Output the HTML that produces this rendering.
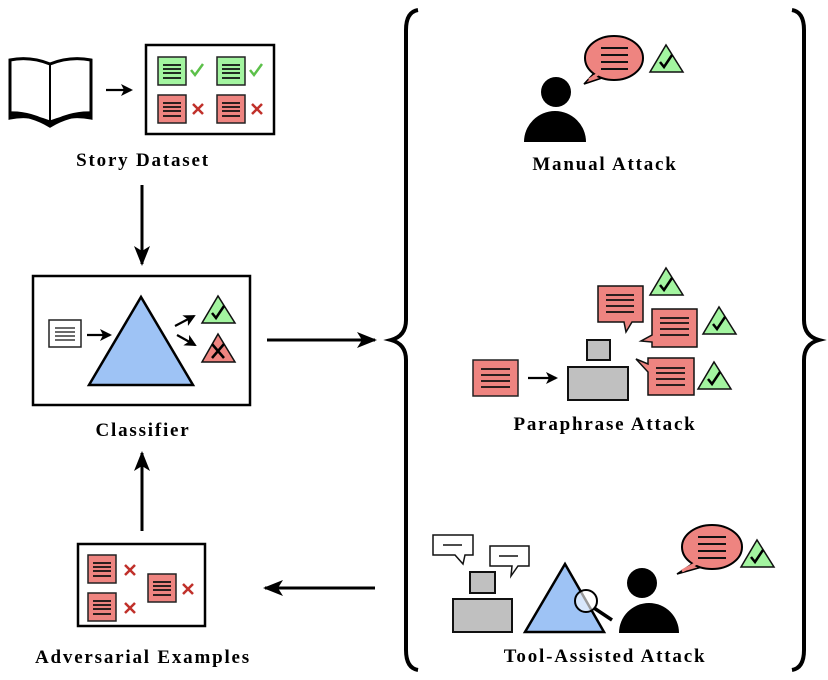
<!DOCTYPE html>
<html><head><meta charset="utf-8"><style>
html,body{margin:0;padding:0;background:#fff}
svg{display:block}
text{font-family:"Liberation Serif",serif;font-weight:bold;font-size:19px;text-anchor:middle;letter-spacing:1.8px}
</style></head><body>
<svg width="828" height="680" viewBox="0 0 828 680" xmlns="http://www.w3.org/2000/svg">
<defs>
<marker id="ah" markerWidth="12" markerHeight="12" refX="10" refY="6" orient="auto" markerUnits="userSpaceOnUse">
<path d="M0,0 L12,6 L0,12 L3,6 Z" fill="#000"/></marker>
<marker id="ahb" markerWidth="20" markerHeight="16" refX="18" refY="8" orient="auto" markerUnits="userSpaceOnUse">
<path d="M0,0 L20,8 L0,16 L5,8 Z" fill="#000"/></marker>
<g id="doc"><rect x="0" y="0" width="28" height="28" stroke="#222" stroke-width="1.5"/>
<path d="M5,8H23M5,12H23M5,16H23M5,21H23" stroke="#111" stroke-width="1.8"/></g>
<g id="gtri"><path d="M0,27 L16,0 L33,27 Z" fill="#a3f5a0" stroke="#111" stroke-width="1.5"/>
<path d="M10,17 L14,22 L22,10" fill="none" stroke="#000" stroke-width="2.5"/></g>
<g id="rx"><path d="M0,0 L10,10 M10,0 L0,10" stroke="#c0302a" stroke-width="2.5"/></g>
<g id="gc"><path d="M0,6 L4,11 L12,0" fill="none" stroke="#5cc04a" stroke-width="2.5"/></g>
</defs>

<!-- book -->
<path d="M10,60 Q30,56 50,64 Q70,56 91,60 V118 Q70,114 50,122 Q30,114 10,118 Z" fill="#fff" stroke="#000" stroke-width="3"/>
<path d="M50,64 V122" stroke="#000" stroke-width="2"/>
<path d="M9,114 Q30,113 50,125 Q70,113 92,114" fill="none" stroke="#000" stroke-width="5"/>
<line x1="106" y1="90" x2="131" y2="90" stroke="#000" stroke-width="2.2" marker-end="url(#ah)"/>
<!-- dataset box -->
<rect x="146" y="45" width="128" height="89" fill="#fff" stroke="#000" stroke-width="2.5"/>
<use href="#doc" x="158" y="57" fill="#a3f5a0"/>
<use href="#gc" x="191" y="64"/>
<use href="#doc" x="217" y="57" fill="#a3f5a0"/>
<use href="#gc" x="250" y="64"/>
<use href="#doc" x="158" y="95" fill="#ee8480"/>
<use href="#rx" x="193" y="104"/>
<use href="#doc" x="217" y="95" fill="#ee8480"/>
<use href="#rx" x="252" y="104"/>
<text x="143" y="166">Story Dataset</text>
<line x1="142" y1="185" x2="142" y2="264" stroke="#000" stroke-width="3" marker-end="url(#ahb)"/>

<!-- classifier -->
<rect x="33" y="276" width="217" height="129" fill="#fff" stroke="#000" stroke-width="2.5"/>
<rect x="49" y="320" width="32" height="27" fill="#fff" stroke="#222" stroke-width="1.5"/>
<path d="M55,328H75M55,332H75M55,336H75M55,340H75" stroke="#111" stroke-width="1.3"/>
<line x1="87" y1="335" x2="110" y2="335" stroke="#000" stroke-width="2.2" marker-end="url(#ah)"/>
<path d="M89,385 L141,297 L193,385 Z" fill="#9ec3f5" stroke="#000" stroke-width="2.5"/>
<line x1="175" y1="326" x2="194" y2="316" stroke="#000" stroke-width="2.2" marker-end="url(#ah)"/>
<line x1="177" y1="335" x2="195" y2="345" stroke="#000" stroke-width="2.2" marker-end="url(#ah)"/>
<use href="#gtri" x="202" y="296"/>
<path d="M202,362 L218,334 L235,362 Z" fill="#ee8480" stroke="#111" stroke-width="1.5"/>
<path d="M212,344 L224,358 M224,344 L212,358" stroke="#000" stroke-width="2.5"/>
<text x="143" y="436">Classifier</text>
<line x1="267" y1="340" x2="375" y2="340" stroke="#000" stroke-width="3" marker-end="url(#ahb)"/>
<line x1="142" y1="531" x2="142" y2="453" stroke="#000" stroke-width="3" marker-end="url(#ahb)"/>

<!-- adversarial -->
<rect x="78" y="544" width="127" height="82" fill="#fff" stroke="#000" stroke-width="2.5"/>
<use href="#doc" x="88" y="555" fill="#ee8480"/>
<use href="#rx" x="125" y="565"/>
<use href="#doc" x="88" y="593" fill="#ee8480"/>
<use href="#rx" x="125" y="603"/>
<use href="#doc" x="148" y="574" fill="#ee8480"/>
<use href="#rx" x="183" y="584"/>
<text x="143" y="663">Adversarial Examples</text>
<line x1="375" y1="588" x2="265" y2="588" stroke="#000" stroke-width="3" marker-end="url(#ahb)"/>

<!-- braces -->
<path d="M418,10 Q406,12 406,30 V320 Q406,336 391,340 Q406,344 406,360 V650 Q406,668 418,670" fill="none" stroke="#000" stroke-width="4"/>
<path d="M792,10 Q804,12 804,30 V320 Q804,336 819,340 Q804,344 804,360 V650 Q804,668 792,670" fill="none" stroke="#000" stroke-width="4"/>

<!-- manual -->
<circle cx="556" cy="92" r="15"/>
<path d="M524,142 A31,31 0 0 1 586,142 Z"/>
<path d="M596,71 L584,84 L605,77" fill="#ee8480" stroke="#000" stroke-width="1.5"/>
<ellipse cx="614" cy="58" rx="29" ry="22" fill="#ee8480" stroke="#000" stroke-width="2"/>
<path d="M589,80 L601,72" stroke="#ee8480" stroke-width="3"/>
<path d="M601,48H628M601,55H628M601,62H628M601,69H628" stroke="#111" stroke-width="2"/>
<use href="#gtri" x="650" y="45"/>
<text x="605" y="170">Manual Attack</text>

<!-- paraphrase -->
<rect x="473" y="360" width="45" height="36" fill="#ee8480" stroke="#222" stroke-width="1.5"/>
<path d="M481,369H510M481,375H510M481,381H510M481,387H510" stroke="#111" stroke-width="1.8"/>
<line x1="528" y1="378" x2="556" y2="378" stroke="#000" stroke-width="2.2" marker-end="url(#ah)"/>
<rect x="587" y="340" width="23" height="20" fill="#c0c0c0" stroke="#111" stroke-width="2"/>
<rect x="568" y="367" width="60" height="33" fill="#c0c0c0" stroke="#111" stroke-width="2"/>
<path d="M598,286 H643 V322 H632 L626,332 L624,322 H598 Z" fill="#ee8480" stroke="#111" stroke-width="1.5"/>
<path d="M606,295H634M606,300H634M606,306H634M606,312H634" stroke="#111" stroke-width="1.8"/>
<path d="M652,309 H697 V347 H652 V342 L641,341 L652,335 Z" fill="#ee8480" stroke="#111" stroke-width="1.5"/>
<path d="M660,318H689M660,323H689M660,329H689M660,335H689" stroke="#111" stroke-width="1.8"/>
<path d="M648,358 H694 V395 H648 V372 L636,359 L648,364 Z" fill="#ee8480" stroke="#111" stroke-width="1.5"/>
<path d="M656,368H685M656,373H685M656,379H685M656,385H685" stroke="#111" stroke-width="1.8"/>
<use href="#gtri" x="650" y="268"/>
<use href="#gtri" x="703" y="307"/>
<use href="#gtri" x="698" y="362"/>
<text x="605" y="430">Paraphrase Attack</text>

<!-- tool-assisted -->
<path d="M433,535 H473 V555 H465 L463,564 L455,555 H433 Z" fill="#fff" stroke="#111" stroke-width="1.5"/>
<path d="M443,545H462" stroke="#111" stroke-width="1.5"/>
<path d="M490,546 H529 V566 H518 L511,576 L512,566 H490 Z" fill="#fff" stroke="#111" stroke-width="1.5"/>
<path d="M499,556H518" stroke="#111" stroke-width="1.5"/>
<rect x="470" y="572" width="25" height="21" fill="#c0c0c0" stroke="#111" stroke-width="2"/>
<rect x="453" y="599" width="59" height="33" fill="#c0c0c0" stroke="#111" stroke-width="2"/>
<path d="M525,632 L565,564 L604,632 Z" fill="#9ec3f5" stroke="#000" stroke-width="2.5"/>
<line x1="594" y1="608" x2="612" y2="620" stroke="#000" stroke-width="3.5"/>
<circle cx="586" cy="601" r="11" fill="#fff" fill-opacity="0.6" stroke="#000" stroke-width="2"/>
<circle cx="642" cy="583" r="15"/>
<path d="M619,633 A30,30 0 0 1 679,633 Z"/>
<path d="M695,562 L677,574 L702,567" fill="#ee8480" stroke="#000" stroke-width="1.5"/>
<ellipse cx="712" cy="547" rx="30" ry="22" fill="#ee8480" stroke="#000" stroke-width="2"/>
<path d="M682,571 L697,563" stroke="#ee8480" stroke-width="3"/>
<path d="M698,537H726M698,544H726M698,551H726M698,558H726" stroke="#111" stroke-width="2"/>
<use href="#gtri" x="741" y="540"/>
<text x="605" y="662">Tool-Assisted Attack</text>
</svg>
</body></html>
